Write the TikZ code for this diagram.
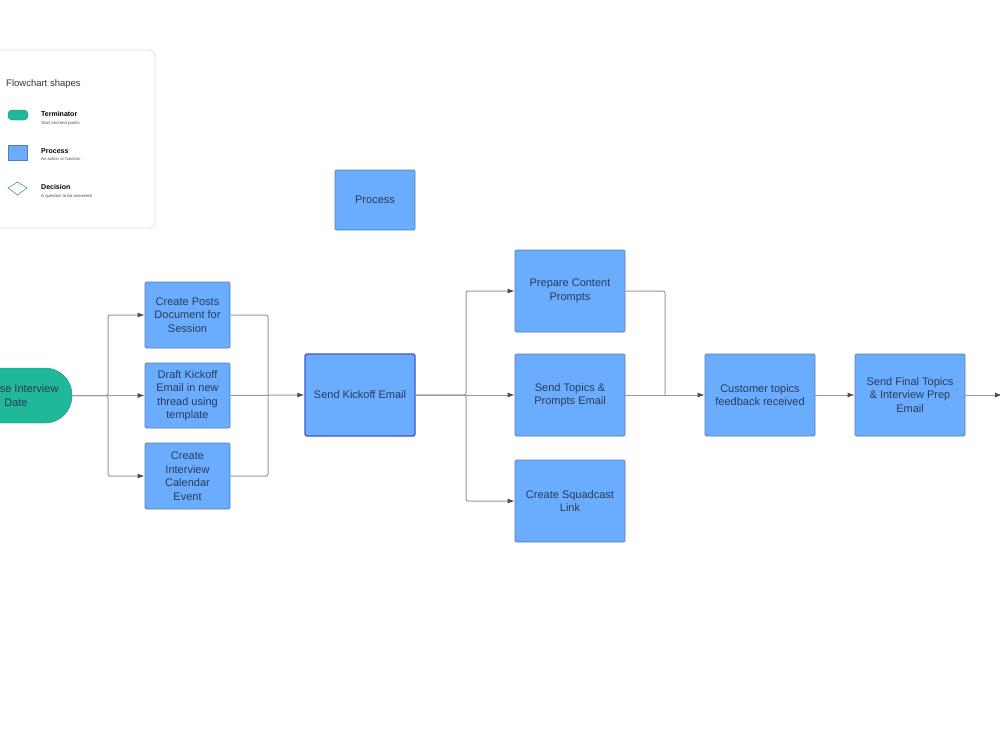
\documentclass[tikz,border=0pt]{standalone}
\usepackage{fontspec}
\setmainfont{Liberation Sans}
\usetikzlibrary{arrows.meta,shapes.geometric}
\definecolor{pfill}{HTML}{6AADFF}
\definecolor{pdraw}{HTML}{5B7DA6}
\definecolor{tfill}{HTML}{1FB89A}
\definecolor{tdraw}{HTML}{178C74}
\definecolor{txt}{HTML}{2B3A55}
\definecolor{lgray}{HTML}{9A9A9A}
\tikzset{
  proc/.style={draw=pdraw,fill=pfill,rounded corners=1.5pt,line width=0.8pt,text=txt,align=center,font=\fontsize{11}{13.5}\selectfont,inner sep=0pt},
  conn/.style={draw=lgray,line width=1pt,rounded corners=2pt},
  arr/.style={conn,-{Latex[length=7pt,width=5pt,color=black!70]}},
}
\begin{document}
\begin{tikzpicture}[x=1pt,y=-1pt]
\useasboundingbox (0,0) rectangle (1000,750);
\clip (0,0) rectangle (1000,750);
\fill[white] (0,0) rectangle (1000,750);
% legend
\draw[draw=black!12,line width=0.8pt,rounded corners=6pt,fill=white] (-10,50) rectangle (155,228);
\node[anchor=west,font=\fontsize{9.5}{11}\selectfont,text=black!80,inner sep=0pt] (lt) at (6,84) {Flowchart shapes};
\draw[draw=tdraw,fill=tfill,rounded corners=4pt] (8,110) rectangle (28,120);
\node[anchor=west,font=\bfseries\fontsize{7}{8}\selectfont,inner sep=0pt] (l1) at (41,114) {Terminator};
\node[anchor=west,font=\fontsize{4.3}{5}\selectfont,inner sep=0pt,text=black!70] (l1b) at (41,123) {Start and end points};
\draw[draw=pdraw,fill=pfill] (8,145) rectangle (27,160);
\node[anchor=west,font=\bfseries\fontsize{7}{8}\selectfont,inner sep=0pt] (l2) at (41,151) {Process};
\node[anchor=west,font=\fontsize{4.3}{5}\selectfont,inner sep=0pt,text=black!70] (l2b) at (41,159) {An action or function};
\draw[draw=tdraw!60!pdraw,line width=0.5pt] (8,188) -- (17.5,182) -- (27,188) -- (17.5,195) -- cycle;
\node[anchor=west,font=\bfseries\fontsize{7}{8}\selectfont,inner sep=0pt] (l3) at (41,187) {Decision};
\node[anchor=west,font=\fontsize{4.3}{5}\selectfont,inner sep=0pt,text=black!70] (l3b) at (41,196) {A question to be answered};
% nodes
\node[proc,minimum width=80pt,minimum height=60pt] (p0) at (375,200) {Process};
\node[draw=tdraw,fill=tfill,rounded corners=27pt,minimum width=112pt,minimum height=55pt,inner sep=0pt,text=txt,align=center,font=\fontsize{11}{13.5}\selectfont] (t) at (16,395.5) {Choose Interview\\Date};
\node[proc,minimum width=85pt,minimum height=66pt] (a1) at (187.5,315) {Create Posts\\Document for\\Session};
\node[proc,minimum width=85pt,minimum height=65pt] (a2) at (187.5,395.5) {Draft Kickoff\\Email in new\\thread using\\template};
\node[proc,minimum width=85pt,minimum height=66pt] (a3) at (187.5,476) {Create\\Interview\\Calendar\\Event};
\node[proc,draw=pdraw!70!blue,line width=1.3pt,minimum width=110pt,minimum height=82pt] (k) at (360,395) {Send Kickoff Email};
\node[proc,minimum width=110pt,minimum height=82pt] (b1) at (570,291) {Prepare Content\\Prompts};
\node[proc,minimum width=110pt,minimum height=82pt] (b2) at (570,395) {Send Topics \&\\Prompts Email};
\node[proc,minimum width=110pt,minimum height=82pt] (b3) at (570,501) {Create Squadcast\\Link};
\node[proc,minimum width=110pt,minimum height=82pt] (c) at (760,395) {Customer topics\\feedback received};
\node[proc,minimum width=110pt,minimum height=82pt] (f) at (910,395) {Send Final Topics\\\& Interview Prep\\Email};
\coordinate (out) at (1002,395);
% connectors
\draw[arr] (t.east) -- (a2.west);
\draw[arr] (t.east) -- (108,395.5) |- (a1.west);
\draw[arr] (t.east) -- (108,395.5) |- (a3.west);
\draw[conn] (a1.east) -| (268,395);
\draw[conn] (a3.east) -| (268,395);
\draw[arr] (a2.east) -- (k.west);
\draw[arr] (k.east) -- (b2.west);
\draw[arr] (k.east) -- (466,395) |- (b1.west);
\draw[arr] (k.east) -- (466,395) |- (b3.west);
\draw[conn] (b1.east) -| (665,395);
\draw[arr] (b2.east) -- (c.west);
\draw[arr] (c.east) -- (f.west);
\draw[arr] (f.east) -- (out);
\end{tikzpicture}
\end{document}
